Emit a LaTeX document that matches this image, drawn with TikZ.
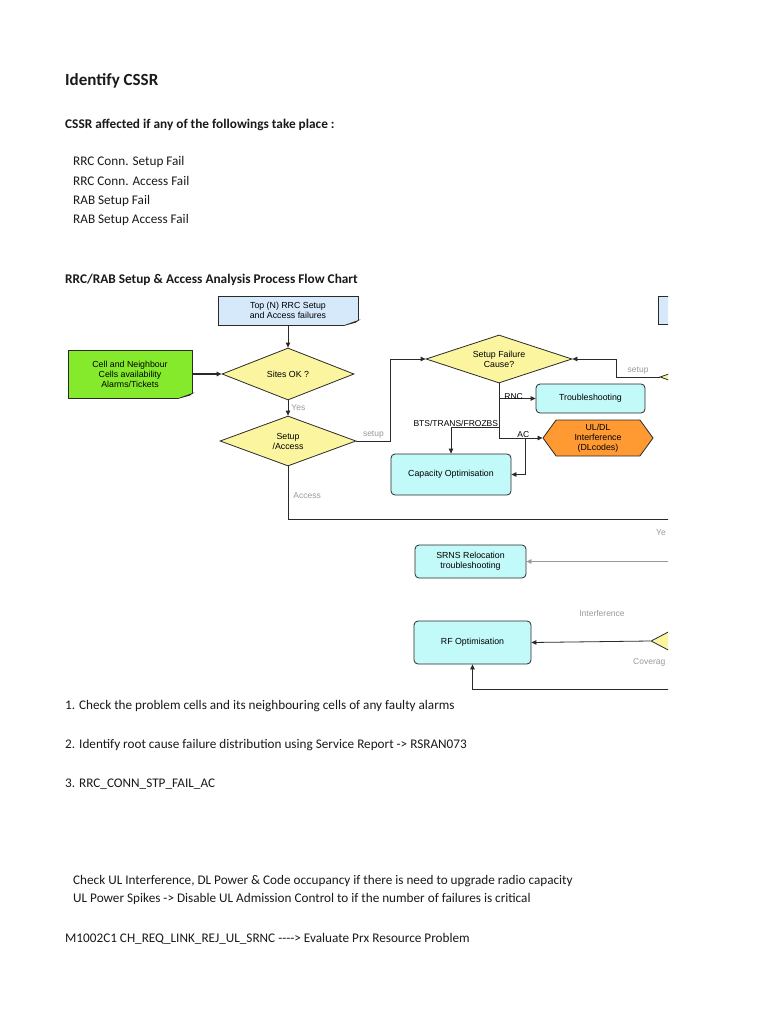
\documentclass[tikz,border=0pt]{standalone}
\usepackage{fontspec}
\setmainfont{Carlito}
\newfontfamily\chartfont{Liberation Sans}
\usetikzlibrary{shapes.geometric,shapes.symbols,arrows.meta}
\definecolor{lblue}{HTML}{D5E9FB}
\definecolor{lgreen}{HTML}{86EA2C}
\definecolor{lyellow}{HTML}{FAF59E}
\definecolor{lcyan}{HTML}{C2F9F9}
\definecolor{lorange}{HTML}{FF9A33}
\definecolor{lblgray}{HTML}{9A9A9A}
\definecolor{edge}{HTML}{2A2A2A}
\definecolor{txt}{HTML}{1A1A1A}
\tikzset{
  body/.style={anchor=base west, inner sep=0, font=\fontsize{13.2}{15}\selectfont, text=txt},
  bodyb/.style={body, font=\fontsize{13.3}{15}\selectfont\bfseries},
  shp/.style={draw=edge, line width=0.8pt, align=center, inner sep=1pt, text=black,
              font=\chartfont\fontsize{8.8}{10}\selectfont},
  docbox/.style={shp, rectangle},
  rbox/.style={shp, rectangle, rounded corners=4pt, fill=lcyan},
  dia/.style={shp, diamond, fill=lyellow, aspect=2.6},
  hexa/.style={shp, signal, signal to=east and west, signal pointer angle=108, fill=lorange},
  conn/.style={draw=edge, line width=0.8pt},
  arr/.style={conn, -{Triangle[length=5pt,width=4.5pt]}},
  glbl/.style={inner sep=1pt, text=lblgray, font=\chartfont\fontsize{8.5}{10}\selectfont},
  blbl/.style={inner sep=1pt, text=black, font=\chartfont\fontsize{8.5}{10}\selectfont}
}
\begin{document}
\begin{tikzpicture}[x=1pt,y=-1pt]
\useasboundingbox[fill=white] (0,0) rectangle (768,1024);

% ---- text above ----
\node[bodyb, font=\fontsize{17}{19}\selectfont\bfseries] (title) at (65,86) {Identify CSSR};
\node[bodyb] (intro) at (65,129) {CSSR affected if any of the followings take place :};
\node[body] (i1) at (73,166) {RRC Conn. Setup Fail};
\node[body] (i2) at (73,186) {RRC Conn. Access Fail};
\node[body] (i3) at (73,205) {RAB Setup Fail};
\node[body] (i4) at (73,224) {RAB Setup Access Fail};
\node[bodyb] (head) at (65,283) {RRC/RAB Setup \& Access Analysis Process Flow Chart};

% ---- flowchart ----
\begin{scope}
\clip (0,0) rectangle (668,1024);
\node[docbox, fill=lblue, minimum width=140, minimum height=29] (top) at (288,310.5) {Top (N) RRC Setup\\and Access failures};
\node[docbox, fill=lblue, minimum width=84, minimum height=28] (topr) at (700,310) {};
\node[docbox, fill=lgreen, minimum width=124, minimum height=48] (green) at (130,374) {Cell and Neighbour\\Cells availability\\Alarms/Tickets};
\foreach \n in {top,green}{
  \fill[white] ([xshift=-14pt,yshift=-0.4pt]\n.south east) -- ([xshift=0.4pt,yshift=-0.4pt]\n.south east) -- ([xshift=0.4pt,yshift=5pt]\n.south east) -- cycle;
  \filldraw[fill=gray!45, draw=edge, line width=0.6pt] ([xshift=-14pt]\n.south east) -- ([yshift=5pt]\n.south east) -- ([xshift=-3pt,yshift=3pt]\n.south east) -- cycle;
}
\node[dia, minimum width=132, minimum height=52] (sites) at (288,374) {Sites OK ?};
\node[dia, minimum width=136, minimum height=50] (setacc) at (288,441) {Setup\\/Access};
\node[dia, minimum width=146, minimum height=48] (sfc) at (499,359) {Setup Failure\\Cause?};
\node[dia, minimum width=140, minimum height=50] (rd1) at (730,377) {};
\node[dia, minimum width=140, minimum height=74] (rd2) at (721,641) {};
\node[rbox, minimum width=109, minimum height=29] (trouble) at (590.5,398.5) {Troubleshooting};
\node[rbox, minimum width=120, minimum height=41] (cap) at (451,474.5) {Capacity Optimisation};
\node[hexa, minimum width=110, minimum height=36] (hex) at (598,438) {UL/DL\\Interference\\(DLcodes)};
\node[rbox, minimum width=111, minimum height=33] (srns) at (470.5,561.5) {SRNS Relocation\\troubleshooting};
\node[rbox, minimum width=117, minimum height=43] (rf) at (472.5,642.5) {RF Optimisation};

\coordinate (accend) at (700,519);
\coordinate (srnsin) at (700,561.5);
\coordinate (rfin) at (700,689);

\draw[arr] (top) -- (sites);
\draw[arr, line width=1.4pt] (green) -- (sites);
\draw[arr] (sites) -- node[glbl, right, xshift=2pt] {Yes} (setacc);
\draw[arr] (setacc.east) -- node[glbl, above, yshift=1pt] {setup} ++(34,0) |- (sfc.west);
\draw[conn] (setacc.south) -- node[glbl, right, xshift=4pt, pos=0.55] {Access} (setacc.south |- accend) -- (accend);
\draw[arr] (rd1.west) -- node[glbl, above, yshift=1pt] {setup} ++(-43,0) |- (sfc.east);
\draw[arr] (sfc.south) |- node[blbl, above, pos=0.78, yshift=-1pt] {AC} (hex.west);
\draw[arr] (sfc.south |- trouble.west) -- node[blbl, above, pos=0.4, yshift=-2pt] {RNC} (trouble.west);
\draw[arr] (sfc.south |- 0,427) -| node[blbl, above, pos=0.45, yshift=-1pt] {BTS/TRANS/FROZBS} (cap.north);
\draw[arr] (525,438) |- (cap.east);
\node[glbl, anchor=west] (yes2) at (655,533) {Ye};
\draw[arr, draw=lblgray] (srnsin) -- (srns.east);
\draw[arr] (rd2.west) -- (rf.east);
\node[glbl] (intf) at (602,613) {Interference};
\node[glbl, anchor=west] (cov) at (632,662) {Coverag};
\draw[arr] (rfin) -| (rf.south);
\end{scope}

% ---- text below ----
\node[body] (n1) at (65,709) {1. Check the problem cells and its neighbouring cells of any faulty alarms};
\node[body] (n2) at (65,748) {2. Identify root cause failure distribution using Service Report -> RSRAN073};
\node[body] (n3) at (65,787) {3. RRC\_CONN\_STP\_FAIL\_AC};
\node[body] (c1) at (73,884) {Check UL Interference, DL Power \& Code occupancy if there is need to upgrade radio capacity};
\node[body] (c2) at (73,902) {UL Power Spikes -> Disable UL Admission Control to if the number of failures is critical};
\node[body] (m1) at (65,942) {M1002C1 CH\_REQ\_LINK\_REJ\_UL\_SRNC {-}{-}{-}{-}> Evaluate Prx Resource Problem};
\end{tikzpicture}
\end{document}
